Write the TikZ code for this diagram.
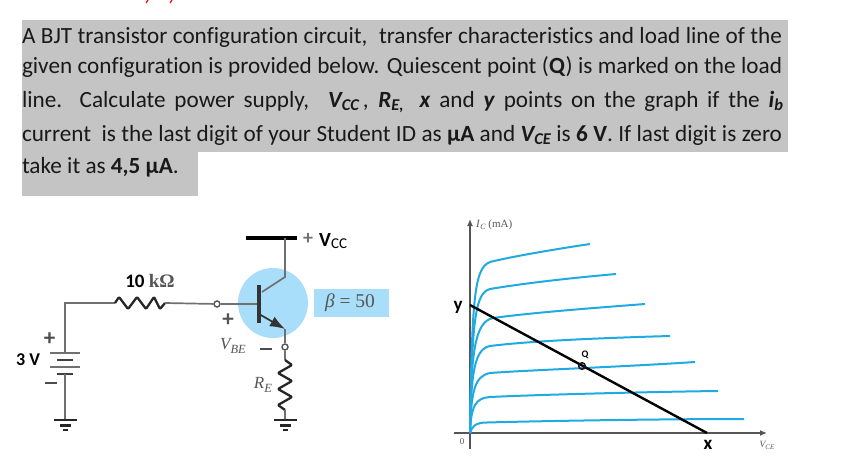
\documentclass[tikz,border=0pt]{standalone}
\usepackage{fontspec}
\setmainfont[Ligatures=NoCommon]{Carlito}
\newfontfamily\serifb{Liberation Serif}
\usetikzlibrary{arrows.meta}
\definecolor{boxgray}{HTML}{C4C4C4}
\definecolor{hiblue}{HTML}{A9DEFA}
\definecolor{curveblue}{HTML}{1FAAE2}
\definecolor{wiregray}{HTML}{707070}
\definecolor{labgray}{HTML}{555555}
\newcommand\sbb[2]{{\bfseries\itshape #1\raisebox{-0.1em}{\fontsize{16.5}{16.5}\selectfont #2}}}
\tikzset{
  para/.style={anchor=base west,inner sep=0pt,outer sep=0pt,font=\fontsize{23.2}{23.2}\selectfont,text=black!90},
  wire/.style={draw=wiregray,line width=1.7pt},
  res/.style={draw=black!85,line width=2.3pt,line join=round,rounded corners=1pt},
  plong/.style={draw=wiregray,line width=1.5pt},
  pshort/.style={draw=black!75,line width=2.6pt},
  gnd/.style={draw=black!85,line width=2.4pt},
  term/.style={circle,draw=labgray,fill=white,line width=1.4pt,minimum size=6pt,inner sep=0pt},
  cblab/.style={inner sep=0pt,font=\bfseries\fontsize{18}{18}\selectfont,text=black},
  serlab/.style={inner sep=0pt,text=labgray,font=\serifb\itshape\fontsize{17}{17}\selectfont},
  sign/.style={inner sep=0pt,text=labgray,font=\bfseries\fontsize{23}{23}\selectfont},
  char/.style={draw=curveblue,line width=2pt,line join=round},
  axis/.style={draw=labgray,line width=1.5pt,-{Latex[length=7pt,width=6pt]}},
}
\begin{document}
\begin{tikzpicture}[x=1pt,y=-1pt]
\useasboundingbox (0,0) rectangle (850,462);
% red marks at the top edge
\draw[red,line width=1.2pt] (148,0) -- (146,3);
\draw[red,line width=1.2pt] (172,0) -- (170,3);
% text block
\fill[boxgray] (22,20) rectangle (788,152);
\fill[boxgray] (22,152) rectangle (198,196);
\node[para] (l1) at (22,43.5) {\hbox to 760pt{A BJT transistor configuration circuit,\hspace{6pt} transfer characteristics and load line of the}};
\node[para] (l2) at (22,74) {\hbox to 760pt{given configuration is provided below. Quiescent point (\textbf{Q}) is marked on the load}};
\node[para] (l3) at (22,108) {\hbox to 761pt{line. Calculate power supply,\hspace{19pt}\sbb{V}{CC}\,, \sbb{R}{E,}\hspace{16pt}\textbf{\textit{x}} and \textbf{\textit{y}} points on the graph if the \sbb{i}{b}}};
\node[para] (l4) at (22,142) {\hbox to 760pt{current\hspace{5pt} is the last digit of your Student ID as \textbf{µA} and \sbb{V}{CE} is \textbf{6 V}. If last digit is zero}};
\node[para] (l5) at (22,174) {take it as \textbf{4,5 µA}.};
% circuit coordinates
\coordinate (corner) at (65,303);
\coordinate (rbl) at (115,303);
\coordinate (rbr) at (165,303);
\node[term] (tb) at (217,304) {};
\coordinate (batp) at (65,353);
\coordinate (batm) at (65,374);
\coordinate (g1) at (65,420);
\coordinate (g2) at (285,420);
% battery and source branch
\draw[wire] (batp) -- (corner) -- (rbl);
\draw[res] (rbl) -- (119,297) -- (128,309) -- (137,297) -- (146,309) -- (154,297) -- (160,309) -- (rbr);
\draw[wire] (rbr) -- (tb);
\draw[plong] (50,353) -- (80,353);
\draw[pshort] (57,360) -- (73,360);
\draw[plong] (50,367) -- (80,367);
\draw[pshort] (57,374) -- (73,374);
\draw[wire] (batm) -- (g1);
\draw[gnd] (54,420) -- (77,420);
\draw[gnd] (60,425.5) -- (71,425.5);
\draw[gnd] (63,430) -- (68,430);
\node[sign,text=black!70] (bplus) at (49.5,339) {+};
\node[inner sep=0pt,text=black!70] (bminus) at (51,383) {\rule{12pt}{2.4pt}};
\node[cblab] (v3) at (28,360) {3 V};
\node[inner sep=0pt,font=\bfseries\fontsize{19}{19}\selectfont] (r10) at (150,281) {10 \textcolor{labgray}{\serifb kΩ}};
% transistor
\fill[hiblue] (273,303) circle[radius=35];
\fill[hiblue] (314,289) rectangle (389,317);
\node[inner sep=0pt,text=labgray,font=\serifb\fontsize{19.5}{19.5}\selectfont] (beta) at (350,303) {\textit{β} = 50};
\coordinate (vcctop) at (285,238);
\coordinate (cbend) at (285,277);
\coordinate (cbase) at (262,292);
\coordinate (ebase) at (259,314);
\coordinate (ebend) at (285,329);
\coordinate (bbar) at (259,304);
\node[term] (te) at (285,347) {};
\coordinate (rt) at (285,360);
\coordinate (rb) at (285,410);
\draw[line width=3.2pt,black] (246,238) -- (297,238);
\draw[wire] (vcctop) -- (cbend) -- (cbase);
\draw[wire] (tb) -- (bbar);
\draw[draw=black!80,line width=4pt] (259,285) -- (259,323);
\draw[draw=black!80,line width=1.7pt,-{Latex[length=15pt,width=11pt]}] (ebase) -- (ebend);
\draw[wire] (ebend) -- (te);
\draw[wire] (te) -- (rt);
\draw[res] (rt) -- (292,365) -- (278,373) -- (292,381) -- (278,389) -- (292,397) -- (278,405) -- (rb);
\draw[wire] (rb) -- (g2);
\draw[gnd] (274,420) -- (297,420);
\draw[gnd] (280,425.5) -- (291,425.5);
\draw[gnd] (283,430) -- (288,430);
\node[sign,text=wiregray,font=\bfseries\fontsize{20}{20}\selectfont] (vplus) at (308,239) {+};
\node[inner sep=0pt,anchor=base west,font=\bfseries\fontsize{20}{20}\selectfont] (vcc) at (319,246) {V\raisebox{-0.14em}{\fontsize{15}{15}\selectfont\mdseries CC}};
\node[sign] (bep) at (228,320) {+};
\node[serlab] (vbe) at (233,346) {V\raisebox{-0.2em}{\fontsize{12.5}{12.5}\selectfont BE}};
\node[inner sep=0pt,text=black!70] (bem) at (266,349) {\rule{12pt}{2.4pt}};
\node[serlab] (re) at (263,385) {R\raisebox{-0.2em}{\fontsize{12.5}{12.5}\selectfont E}};
% graph
\coordinate (yb) at (470,449);
\coordinate (yt) at (470,219);
\coordinate (xl) at (454,433);
\coordinate (xr) at (767,433);
\coordinate (o) at (470,433);
\draw[axis] (yb) -- (yt);
\draw[axis] (xl) -- (xr);
\node[inner sep=0pt,text=labgray,font=\serifb\fontsize{9}{9}\selectfont] (zero) at (462,442) {0};
\node[inner sep=0pt,text=labgray,anchor=west,font=\serifb\fontsize{11}{11}\selectfont] (ic) at (476,225) {\textit{I}\raisebox{-0.2em}{\fontsize{8}{8}\selectfont\textit{C}} (mA)};
\node[inner sep=0pt,text=labgray,font=\serifb\itshape\fontsize{9.5}{9.5}\selectfont] (vce) at (767,445) {V\raisebox{-0.2em}{\fontsize{7}{7}\selectfont CE}};
\draw[char] (o) .. controls (472,300) and (474,268) .. (490,262) .. controls (510,257) and (550,250) .. (590,244);
\draw[char] (o) .. controls (472,320) and (475,293) .. (490,289) .. controls (520,284) and (560,279) .. (616,274);
\draw[char] (o) .. controls (471,350) and (475,322) .. (493,318) .. controls (530,313) and (580,309) .. (645,304);
\draw[char] (o) .. controls (471,370) and (475,349) .. (490,346) .. controls (530,341) and (600,338) .. (670,336);
\draw[char] (o) .. controls (471,390) and (475,376) .. (490,373) .. controls (530,370) and (620,367) .. (695,362);
\draw[char] (o) .. controls (471,405) and (476,398) .. (490,397) .. controls (530,395) and (640,392) .. (718,391);
\draw[char] (o) .. controls (472,426) and (476,422.5) .. (487,422.5) .. controls (540,421) and (660,419) .. (744,419);
\coordinate (ya) at (470,305);
\coordinate (xa) at (707,433);
\draw[black,line width=2.4pt] (ya) -- (xa);
\node[circle,draw=black!90,line width=1.6pt,minimum size=6.5pt,inner sep=0pt] (q) at (582,366) {};
\node[inner sep=0pt,font=\bfseries\fontsize{10}{10}\selectfont] (ql) at (585,355) {Q};
\node[inner sep=0pt,font=\bfseries\fontsize{19}{19}\selectfont] (yl) at (458,307) {y};
\node[inner sep=0pt,font=\bfseries\fontsize{19}{19}\selectfont] (xl2) at (708,445) {x};
\end{tikzpicture}
\end{document}
